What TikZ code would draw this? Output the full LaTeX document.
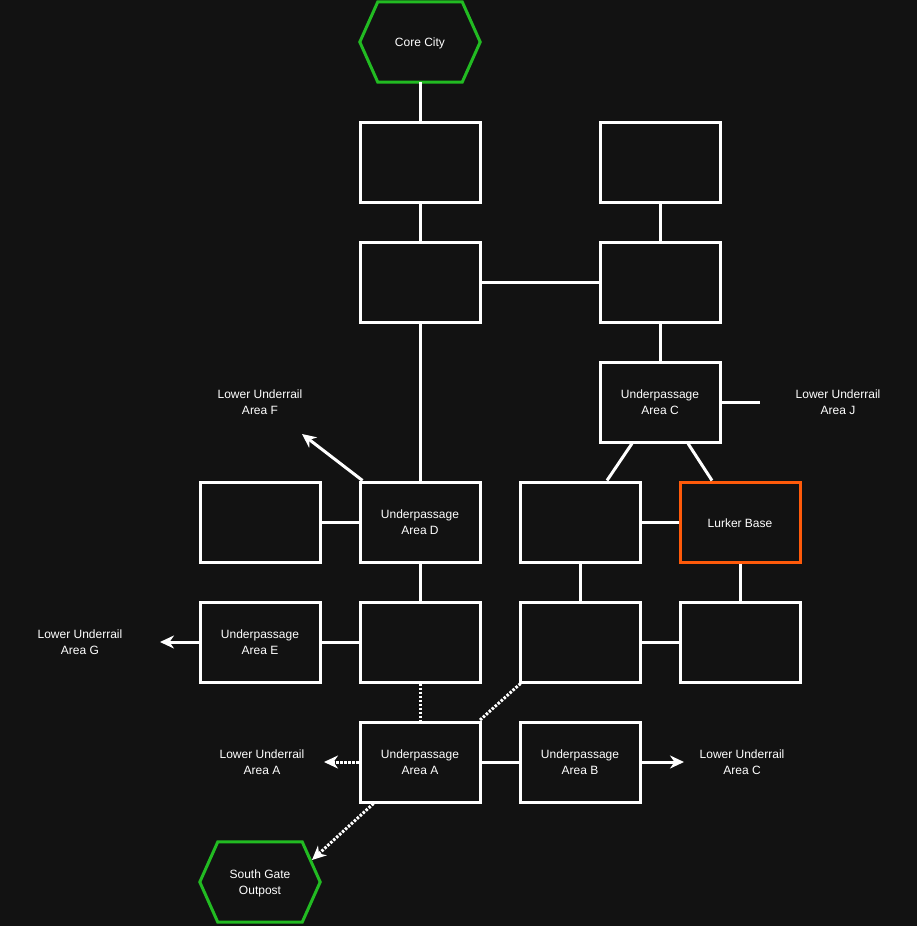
\documentclass[tikz,border=0pt]{standalone}
\usepackage{fontspec}
\setmainfont{Liberation Sans}
\usetikzlibrary{arrows.meta}
\definecolor{bg}{HTML}{121212}
\definecolor{hexgreen}{HTML}{22BB22}
\definecolor{lurker}{HTML}{FF5A0A}
\newcommand{\twoln}[2]{\raisebox{-1.5pt}[\height][\depth]{\begin{tabular}{@{}c@{}}#1\\#2\end{tabular}}}
\newcommand{\oneln}[1]{\raisebox{-1pt}[\height][\depth]{#1}}
\tikzset{
  room/.style={draw=white, line width=3pt, fill=bg, minimum width=120pt, minimum height=80pt, inner sep=0pt, text=white, align=center, font=\fontsize{12}{16}\selectfont},
  hexnode/.style={minimum width=120pt, minimum height=80pt, inner sep=0pt, text=white, align=center, font=\fontsize{12}{16}\selectfont},
  hexline/.style={draw=hexgreen, line width=3pt, line join=miter},
  lbl/.style={text=white, align=center, font=\fontsize{12}{16}\selectfont, inner sep=0pt},
  link/.style={draw=white, line width=3pt},
  dotlink/.style={draw=white, line width=3pt, dash pattern=on 2.5pt off 1.5pt},
  tip/.style={-{Stealth[length=14pt, width=13pt, inset=4.5pt]}}
}
\begin{document}
\begin{tikzpicture}[x=1pt, y=-1pt]
\fill[bg] (0,0) rectangle (917,926);
\useasboundingbox (0,0) rectangle (917,926);

% hexagons
\node[hexnode] (core) at (420,42) {\oneln{Core City}};
\draw[hexline] (core.west) -- ([xshift=18pt]core.north west) -- ([xshift=-18pt]core.north east) -- (core.east) -- ([xshift=-18pt]core.south east) -- ([xshift=18pt]core.south west) -- cycle;
\node[hexnode] (south) at (260,882) {\twoln{South Gate}{Outpost}};
\draw[hexline] (south.west) -- ([xshift=18pt]south.north west) -- ([xshift=-18pt]south.north east) -- (south.east) -- ([xshift=-18pt]south.south east) -- ([xshift=18pt]south.south west) -- cycle;

% rooms
\node[room] (b1) at (420,162) {};
\node[room] (b2) at (660,162) {};
\node[room] (b3) at (420,282) {};
\node[room] (b4) at (660,282) {};
\node[room] (uc) at (660,402) {\twoln{Underpassage}{Area C}};
\node[room] (w1) at (260,522) {};
\node[room] (ud) at (420,522) {\twoln{Underpassage}{Area D}};
\node[room] (e1) at (580,522) {};
\node[room, draw=lurker] (lurk) at (740,522) {\oneln{Lurker Base}};
\node[room] (ue) at (260,642) {\twoln{Underpassage}{Area E}};
\node[room] (c1) at (420,642) {};
\node[room] (e2) at (580,642) {};
\node[room] (e3) at (740,642) {};
\node[room] (ua) at (420,762) {\twoln{Underpassage}{Area A}};
\node[room] (ub) at (580,762) {\twoln{Underpassage}{Area B}};

% labels
\node[lbl] (lf) at (260,402.5) {Lower Underrail\\Area F};
\node[lbl] (lj) at (838,402.5) {Lower Underrail\\Area J};
\node[lbl] (lg) at (80,642.5) {Lower Underrail\\Area G};
\node[lbl] (la) at (262,762.5) {Lower Underrail\\Area A};
\node[lbl] (lc) at (742,762.5) {Lower Underrail\\Area C};

% free ends
\coordinate (jend) at (760,402);
\coordinate (fend) at (302,434);
\coordinate (gend) at (160,642);
\coordinate (aend) at (324,762);
\coordinate (cend) at (684,762);
\coordinate (send) at (312,860);

% connectors
\draw[link] (core.south) -- (b1.north);
\draw[link] (b1.south) -- (b3.north);
\draw[link] (b2.south) -- (b4.north);
\draw[link] (b3.east) -- (b4.west);
\draw[link] (b4.south) -- (uc.north);
\draw[link] (b3.south) -- (ud.north);
\draw[link] (uc.east) -- (jend);
\draw[link] ([xshift=-28pt]uc.south) -- ([xshift=27pt]e1.north);
\draw[link] ([xshift=28pt]uc.south) -- ([xshift=-28pt]lurk.north);
\draw[link] (w1.east) -- (ud.west);
\draw[link] (e1.east) -- (lurk.west);
\draw[link] (ud.south) -- (c1.north);
\draw[link] (ue.east) -- (c1.west);
\draw[link] (e1.south) -- (e2.north);
\draw[link] (lurk.south) -- (e3.north);
\draw[link] (e2.east) -- (e3.west);
\draw[link] (ua.east) -- (ub.west);
\draw[link, tip] ([xshift=4pt]ud.north west) -- (fend);
\draw[link, tip] (ue.west) -- (gend);
\draw[link, tip] (ub.east) -- (cend);
\draw[dotlink] (c1.south) -- (ua.north);
\draw[dotlink] ([xshift=2pt]e2.south west) -- ([xshift=-2pt]ua.north east);
\draw[dotlink, tip] (ua.west) -- (aend);
\draw[dotlink, tip] ([xshift=15pt]ua.south west) -- (send);
\end{tikzpicture}
\end{document}
